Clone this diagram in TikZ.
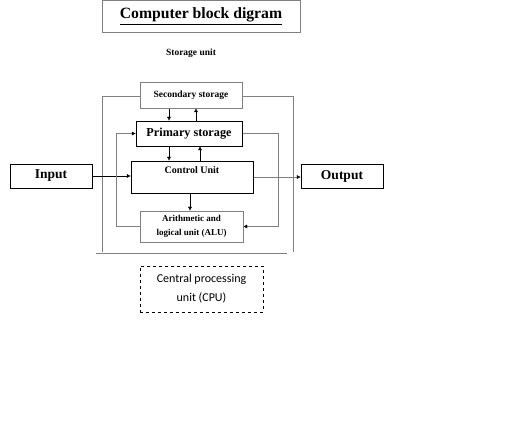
\documentclass[tikz,border=0pt]{standalone}
\usepackage{fontspec}
\setmainfont{Liberation Serif}
\newfontfamily\cpufont{Carlito}
\usetikzlibrary{arrows.meta}
\pgfdeclarelayer{nodelayer}
\pgfdeclarelayer{edgelayer}
\pgfsetlayers{edgelayer,nodelayer,main}
\definecolor{framegrey}{RGB}{128,128,128}
\tikzstyle{block}=[fill=white, draw=black, shape=rectangle, inner sep=0pt]
\tikzstyle{grey block}=[block, draw=framegrey]
\tikzstyle{none}=[fill=none, draw=none, shape=rectangle, inner sep=0pt]
\tikzstyle{cpu box}=[fill=white, draw=black, dashed, shape=rectangle, inner sep=0pt, align=center]
\tikzstyle{flow edge}=[draw=black, -{Latex[length=4pt, width=4pt]}]
\tikzstyle{grey edge}=[draw=framegrey, -{Latex[length=4pt, width=4pt, black]}]
\tikzstyle{frame line}=[draw=framegrey]

\begin{document}
\begin{tikzpicture}[x=1pt, y=-1pt, line width=0.7pt]
	\useasboundingbox (0,0) rectangle (512,433);
	\begin{pgfonlayer}{nodelayer}
		\node [style=grey block, minimum width=198pt, minimum height=31.5pt, font=\bfseries\fontsize{15.7}{18}\selectfont] (0) at (201, 16.25) {\underline{Computer block digram}};
		\node [style=none, font=\bfseries\fontsize{9.5}{11}\selectfont] (1) at (191, 53) {Storage unit};
		\node [style=grey block, minimum width=102pt, minimum height=26pt, font=\bfseries\fontsize{9.5}{11}\selectfont] (2) at (191, 95) {Secondary storage};
		\node [style=block, minimum width=106pt, minimum height=25pt, font=\bfseries\fontsize{12.2}{14}\selectfont] (3) at (189, 133.5) {Primary storage};
		\node [style=block, minimum width=122pt, minimum height=32pt, text depth=14pt, font=\bfseries\fontsize{10}{12}\selectfont] (4) at (192, 177) {Control Unit};
		\node [style=grey block, minimum width=103pt, minimum height=31pt, align=center, font=\bfseries\fontsize{9}{14}\selectfont] (5) at (191.5, 226.5) {Arithmetic and\\logical unit (ALU)};
		\node [style=block, minimum width=82pt, minimum height=24pt, font=\bfseries\fontsize{13.5}{16}\selectfont] (6) at (51, 176) {Input};
		\node [style=block, minimum width=82pt, minimum height=24pt, font=\bfseries\fontsize{13.5}{16}\selectfont] (7) at (342, 176) {Output};
		\node [style=cpu box, minimum width=123pt, minimum height=46pt, font=\cpufont\fontsize{12}{19}\selectfont] (8) at (201.5, 289) {Central processing\\unit (CPU)};
	\end{pgfonlayer}
	\begin{pgfonlayer}{edgelayer}
		% frame round the processing unit
		\draw [style=frame line] (102, 252) -- (102, 96) -- (293, 96) -- (293, 252);
		\draw [style=frame line] (96, 253) -- (287, 253);
		\draw [style=flow edge] ([xshift=-22pt]2.south) to ([xshift=-22pt]2.south |- 3.north);
		\draw [style=flow edge] ([xshift=5pt]2.south |- 3.north) to ([xshift=5pt]2.south);
		\draw [style=flow edge] ([xshift=-20pt]3.south) to ([xshift=-20pt]3.south |- 4.north);
		\draw [style=flow edge] ([xshift=11pt]3.south |- 4.north) to ([xshift=11pt]3.south);
		\draw [style=flow edge] ([xshift=-2pt]4.south) to ([xshift=-2pt]4.south |- 5.north);
		\draw [style=flow edge] (6.east) to (6.east -| 4.west);
		\draw [style=grey edge] (4.east) to (4.east -| 7.west);
		\draw [style=grey edge] (5.west) -- ++(-24, 0) |- (3.west);
		\draw [style=grey edge] (3.east) -- ++(36, 0) |- (5.east);
	\end{pgfonlayer}
\end{tikzpicture}
\end{document}
